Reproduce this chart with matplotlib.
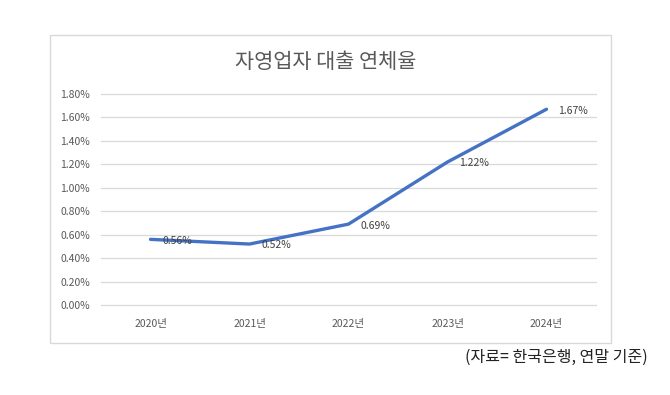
import matplotlib
matplotlib.use('Agg')
import matplotlib.pyplot as plt
from matplotlib.patches import Rectangle

plt.rcParams['font.family'] = ['Noto Sans CJK KR', 'DejaVu Sans']

# data
years = ['2020년', '2021년', '2022년', '2023년', '2024년']
rates = [0.56, 0.52, 0.69, 1.22, 1.67]
yticks = [0.0, 0.2, 0.4, 0.6, 0.8, 1.0, 1.2, 1.4, 1.6, 1.8]

fig = plt.figure(figsize=(6.7, 3.95), dpi=100, facecolor='white')

# chart frame
fig.patches.append(Rectangle((50 / 670, 1 - 343 / 395), 561 / 670, 308 / 395,
                             transform=fig.transFigure, fill=False,
                             edgecolor='#d9d9d9', linewidth=1.0))

ax = fig.add_axes([101 / 670, 90 / 395, 495 / 670, 211 / 395])
x = list(range(len(years)))
ax.plot(x, rates, color='#4472C4', linewidth=2.4, solid_capstyle='round')

for xi, v in zip(x, rates):
    ax.annotate(f'{v:.2f}%', (xi, v), xytext=(8.5, -1), textcoords='offset points',
                ha='left', va='center', fontsize=7.5, color='#404040')

ax.set_xlim(-0.5, 4.5)
ax.set_ylim(0, 1.8)
ax.set_yticks(yticks)
ax.set_yticklabels([f'{t:.2f}%' for t in yticks])
ax.set_xticks(x)
ax.set_xticklabels(years)
ax.grid(axis='y', color='#d9d9d9', linewidth=0.9)
for gl in ax.get_ygridlines():
    gl.set_clip_on(False)
ax.set_axisbelow(True)
for s in ax.spines.values():
    s.set_visible(False)
ax.tick_params(axis='both', length=0, labelsize=7.5, labelcolor='#595959')
ax.tick_params(axis='x', pad=10)
ax.tick_params(axis='y', pad=8)

fig.text(326 / 670, 1 - 62 / 395, '자영업자 대출 연체율', ha='center', va='center',
         fontsize=15, color='#595959')
fig.text(648 / 670, 1 - 357 / 395, '(자료= 한국은행, 연말 기준)', ha='right', va='center',
         fontsize=11.5, color='#222222')

fig.savefig('out.png', dpi=100, facecolor='white')
